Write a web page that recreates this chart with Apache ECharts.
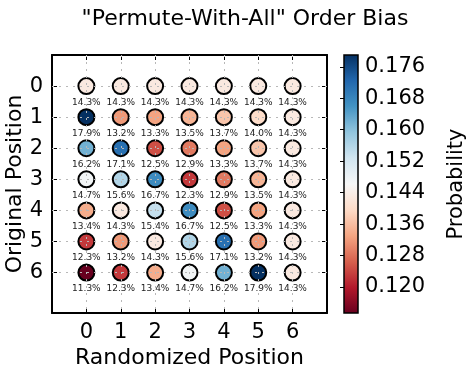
<!DOCTYPE html>
<html><head><meta charset="utf-8">
<script src="https://cdn.jsdelivr.net/npm/echarts@6/dist/echarts.min.js"></script>
<style>html,body{margin:0;padding:0;background:#fff}#c{width:474px;height:373px}</style>
</head><body><div id="c"></div>
<script>
var positions = [0, 1, 2, 3, 4, 5, 6];
// rows = original position, columns = randomized position (percent)
var row0 = [14.3, 14.3, 14.3, 14.3, 14.3, 14.3, 14.3];
var row1 = [17.9, 13.2, 13.3, 13.5, 13.7, 14.0, 14.3];
var row2 = [16.2, 17.1, 12.5, 12.9, 13.3, 13.7, 14.3];
var row3 = [14.7, 15.6, 16.7, 12.3, 12.9, 13.5, 14.3];
var row4 = [13.4, 14.3, 15.4, 16.7, 12.5, 13.3, 14.3];
var row5 = [12.3, 13.2, 14.3, 15.6, 17.1, 13.2, 14.3];
var row6 = [11.3, 12.3, 13.4, 14.7, 16.2, 17.9, 14.3];
var rows = [row0, row1, row2, row3, row4, row5, row6];
var colorTicks = [0.120, 0.128, 0.136, 0.144, 0.152, 0.160, 0.168, 0.176];
var cMin = 0.1134, cMax = 0.179;

var rdbu = ['#67001f','#b2182b','#d6604d','#f4a582','#fddbc7','#f7f7f7','#d1e5f0','#92c5de','#4393c3','#2166ac','#053061'];

var data = [];
rows.forEach(function (r, yi) {
  r.forEach(function (v, xi) { data.push([positions[xi], positions[yi], v / 100]); });
});

var FONT = 'DejaVu Sans';
var gridLines = [];
positions.forEach(function (p) { gridLines.push({xAxis: p}); gridLines.push({yAxis: p}); });

var stops = rdbu.map(function (c, i) { return {offset: i / (rdbu.length - 1), color: c}; });

var chart = echarts.init(document.getElementById('c'));
function mainAxis(extra) {
  return Object.assign({
    type: 'value', gridIndex: 0,
    axisLine: {show: true, onZero: false, lineStyle: {color: '#000', width: 2}},
    axisTick: {show: true, inside: true, length: 5, customValues: positions, lineStyle: {color: '#000', width: 1}},
    axisLabel: {show: true, customValues: positions, fontFamily: FONT, fontSize: 21, color: '#000', margin: 9},
    splitLine: {show: false}
  }, extra);
}
chart.setOption({
  animation: false,
  backgroundColor: '#fff',
  title: {
    text: '"Permute-With-All" Order Bias', left: 240, top: 3, textAlign: 'center',
    textStyle: {fontFamily: FONT, fontSize: 22, fontWeight: 'normal', color: '#000'}
  },
  grid: [
    {left: 52, top: 55, width: 275, height: 258, show: false, containLabel: false, outerBoundsMode: 'none'},
    {left: 344, top: 55, width: 14, height: 258, show: true, containLabel: false, outerBoundsMode: 'none',
     backgroundColor: new echarts.graphic.LinearGradient(0, 1, 0, 0, stops),
     borderColor: '#000', borderWidth: 1.5}
  ],
  xAxis: [
    mainAxis({min: -1, max: 7, position: 'bottom', name: 'Randomized Position', nameLocation: 'middle', nameGap: 34,
      nameMoveOverlap: false, nameTextStyle: {fontFamily: FONT, fontSize: 22, color: '#000'}}),
    mainAxis({min: -1, max: 7, position: 'top', axisLabel: {show: false}}),
    {type: 'value', gridIndex: 1, min: 0, max: 1, show: false}
  ],
  yAxis: [
    mainAxis({min: -1, max: 7.3, inverse: true, position: 'left', name: 'Original Position', nameLocation: 'middle', nameGap: 26,
      nameMoveOverlap: false, nameRotate: 90, nameTextStyle: {fontFamily: FONT, fontSize: 22, color: '#000'}}),
    mainAxis({min: -1, max: 7.3, inverse: true, position: 'right', axisLabel: {show: false}}),
    {type: 'value', gridIndex: 1, min: cMin, max: cMax, position: 'right',
     axisLine: {show: false},
     axisTick: {show: true, inside: true, length: 4, customValues: colorTicks, lineStyle: {color: '#000', width: 1}},
     axisLabel: {customValues: colorTicks, fontFamily: FONT, fontSize: 21, color: '#000', margin: 7,
       formatter: function (v) { return v.toFixed(3); }},
     splitLine: {show: false},
     name: 'Probability', nameLocation: 'middle', nameGap: 88, nameRotate: 90,
     nameTextStyle: {fontFamily: FONT, fontSize: 21, color: '#000'}}
  ],
  visualMap: {type: 'continuous', show: false, min: cMin, max: cMax, dimension: 2, seriesIndex: 1,
    inRange: {color: rdbu}},
  series: [
    {type: 'scatter', xAxisIndex: 0, yAxisIndex: 0, data: [], z: 1, silent: true,
     markLine: {silent: true, symbol: ['none', 'none'], label: {show: false},
       lineStyle: {color: '#b8b8b8', type: [2, 5], width: 1}, data: gridLines}},
    {type: 'scatter', xAxisIndex: 0, yAxisIndex: 0, data: data, z: 3, symbolSize: 16,
     itemStyle: {borderColor: '#000', borderWidth: 2, opacity: 1},
     label: {show: true, position: 'bottom', distance: 3, fontFamily: FONT, fontSize: 9, color: '#222',
       formatter: function (p) { return (p.value[2] * 100).toFixed(1) + '%'; }}}
  ]
});
</script></body></html>
